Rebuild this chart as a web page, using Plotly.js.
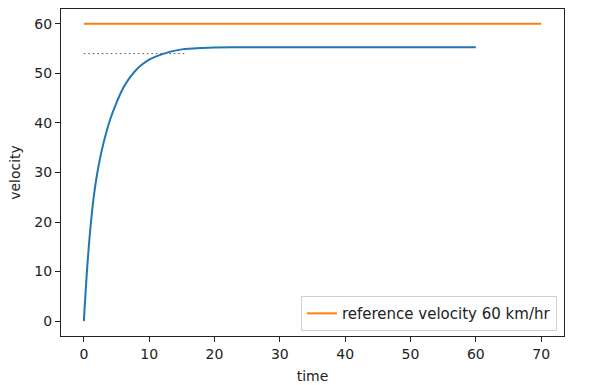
<!DOCTYPE html>
<html>
<head>
<meta charset="utf-8">
<script src="https://cdn.plot.ly/plotly-3.0.1.min.js"></script>
<style>html,body{margin:0;padding:0;background:#fff;}#chart{width:589px;height:385px;}</style>
</head>
<body>
<div id="chart"></div>
<script>
// Simulated vehicle velocity (blue)
const time = [0,0.5,1,1.5,2,2.5,3,4,5,6,7,8,9,10,11,12,13,14,15,16,18,20,25,30,40,50,60];
const velocity = [0,10.6,18.8,25.0,29.5,33.0,35.9,40.6,44.1,47.0,49.1,50.7,51.9,52.8,53.4,53.9,54.3,54.6,54.85,55.0,55.15,55.25,55.3,55.3,55.3,55.3,55.3];
// Reference velocity (orange)
const refTime = [0, 70];
const refVelocity = [60, 60];
// Dotted marker line
const dotTime = [0, 15.5];
const dotVelocity = [54, 54];
const legendLabel = "reference velocity 60 km/hr";

const font = "DejaVu Sans, sans-serif";
const traces = [
  {x: dotTime, y: dotVelocity, mode: "lines", line: {color: "#555", width: 1, dash: "1.5px,3px"}, showlegend: false, hoverinfo: "skip"},
  {x: time, y: velocity, mode: "lines", line: {color: "#1f77b4", width: 2, shape: "spline", smoothing: 0.8}, showlegend: false},
  {x: refTime, y: refVelocity, mode: "lines", line: {color: "#ff7f0e", width: 2}, name: legendLabel, showlegend: true}
];
const axisCommon = {
  showgrid: false, zeroline: false, showline: true, mirror: true,
  linecolor: "#222", linewidth: 1, ticks: "outside", ticklen: 5, tickwidth: 1, tickcolor: "#222",
  tickfont: {family: font, size: 14, color: "#222"}
};
const layout = {
  width: 589, height: 385,
  margin: {l: 61, r: 25, t: 9, b: 49},
  paper_bgcolor: "#fff", plot_bgcolor: "#fff",
  font: {family: font, size: 14, color: "#222"},
  xaxis: Object.assign({}, axisCommon, {range: [-3.5, 73.5], tickmode: "linear", tick0: 0, dtick: 10,
    title: {text: "time", font: {family: font, size: 14, color: "#222"}, standoff: 10}}),
  yaxis: Object.assign({}, axisCommon, {range: [-3, 63], tickmode: "linear", tick0: 0, dtick: 10,
    title: {text: "velocity", font: {family: font, size: 14, color: "#222"}, standoff: 10}}),
  legend: {x: 0.986, y: 0.015, xanchor: "right", yanchor: "bottom", bgcolor: "rgba(255,255,255,0.8)",
    bordercolor: "#d0d0d0", borderwidth: 1, font: {family: font, size: 15, color: "#222"}},
  showlegend: true
};
Plotly.newPlot("chart", traces, layout, {displayModeBar: false, staticPlot: true});
</script>
</body>
</html>
